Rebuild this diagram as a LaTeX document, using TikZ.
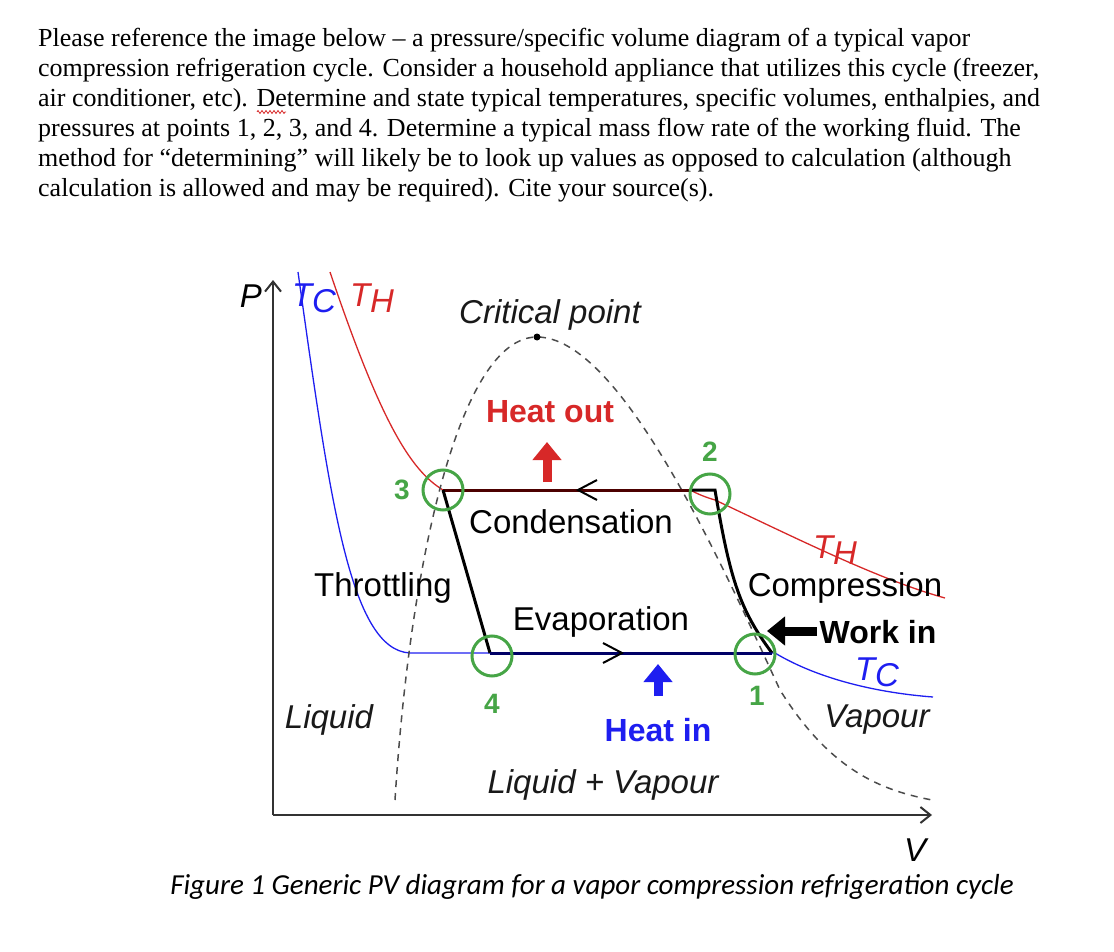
\documentclass[tikz,border=0pt]{standalone}
\usepackage{fontspec}
\setmainfont{Liberation Serif}
\newfontfamily\arial{Liberation Sans}
\newfontfamily\calib{Carlito}
\usetikzlibrary{arrows.meta,decorations.pathmorphing}
\definecolor{grn}{RGB}{70,165,70}
\definecolor{rd}{RGB}{215,40,40}
\definecolor{bl}{RGB}{30,30,240}
\begin{document}
\begin{tikzpicture}[x=1pt,y=-1pt,
  para/.style={anchor=west,inner sep=0pt,font=\fontsize{26}{26}\selectfont},
  lab/.style={inner sep=0pt,font=\arial\fontsize{33}{33}\selectfont},
  blab/.style={inner sep=0pt,font=\arial\bfseries\fontsize{32}{32}\selectfont},
  ilab/.style={inner sep=0pt,font=\arial\itshape\fontsize{33}{33}\selectfont},
  num/.style={inner sep=0pt,text=grn,font=\arial\bfseries\fontsize{28}{28}\selectfont},
  ring/.style={draw=grn,line width=3pt,circle,minimum size=40pt,inner sep=0pt},
  dome/.style={dash pattern=on 7pt off 6pt,line width=1.5pt,gray!60!black},
  cyc/.style={line width=3pt},
  fat/.style={line width=9pt,-{Triangle[width=28pt,length=18pt]}}]
\useasboundingbox (0,0) rectangle (1114,952);
% paragraph
\node[para] (l1) at (38,40) {Please reference the image below -- a pressure/specific volume diagram of a typical vapor};
\node[para] (l2) at (38,70) {compression refrigeration cycle. Consider a household appliance that utilizes this cycle (freezer,};
\node[para] (l3) at (38,100) {air conditioner, etc). Determine and state typical temperatures, specific volumes, enthalpies, and};
\node[para] (l4) at (38,130) {pressures at points 1, 2, 3, and 4. Determine a typical mass flow rate of the working fluid. The};
\node[para] (l5) at (38,160) {method for ``determining'' will likely be to look up values as opposed to calculation (although};
\node[para] (l6) at (38,190) {calculation is allowed and may be required). Cite your source(s).};
\coordinate (w1) at (257,112); \coordinate (w2) at (286,112);
\draw[rd,line width=0.8pt,decorate,decoration={zigzag,amplitude=1.5pt,segment length=4pt}] (w1) -- (w2);
% axes
\coordinate (o) at (273,815); \coordinate (py) at (273,280); \coordinate (vx) at (932,815);
\draw[line width=2pt,gray!40!black,-{Straight Barb[length=10pt,width=16pt]}] (o) -- (py);
\draw[line width=2pt,gray!40!black,-{Straight Barb[length=10pt,width=16pt]}] (o) -- (vx);
\node[ilab] (P) at (251,296) {P};
\node[ilab] (V) at (915,850) {V};
% isotherms
\draw[rd,line width=1.3pt] (330,272) .. controls (380,420) and (410,470) .. (443,490);
\draw[rd,line width=1.3pt] (690,490) .. controls (700,495) and (705,497) .. (715,500) .. controls (800,540) and (880,580) .. (945,598);
\draw[bl,line width=1.3pt] (298,272) .. controls (330,500) and (350,650) .. (410,653) -- (775,653) .. controls (820,680) and (880,693) .. (933,697);
\node[ilab,text=bl] (TC) at (314,298) {T\raisebox{-6pt}{C}};
\node[ilab,text=rd] (TH) at (372,298) {T\raisebox{-6pt}{H}};
\node[ilab,text=rd] (TH2) at (835,550) {T\raisebox{-6pt}{H}};
\node[ilab,text=bl] (TC2) at (877,672) {T\raisebox{-6pt}{C}};
% dome
\coordinate (cp) at (537,337);
\draw[dome] (395,800) .. controls (410,560) and (460,337) .. (cp) .. controls (620,337) and (720,560) .. (780,690) .. controls (830,770) and (880,790) .. (932,800);
\fill (cp) circle (3.5pt);
\node[ilab,gray!20!black] (cpl) at (550,315) {Critical point};
% cycle
\coordinate (p3) at (443,490); \coordinate (p2) at (715,490);
\coordinate (p1) at (772,653); \coordinate (p4) at (490,653);
\draw[cyc,black!70!red] (690,490) -- (p3);
\draw[cyc] (690,490) -- (p2) .. controls (730,580) and (740,610) .. (p1);
\draw[cyc] (p3) -- (p4);
\draw[cyc,black!60!blue] (p4) -- (p1);
\draw[line width=2pt] (597,480) -- (578,490) -- (597,500);
\draw[line width=2pt] (603,643) -- (622,653) -- (603,663);
\node[ring] (c3) at (443,490) {}; \node[num] (n3) at (402,490) {3};
\node[ring] (c2) at (710,494) {}; \node[num] (n2) at (710,452) {2};
\node[ring] (c1) at (755,654) {}; \node[num] (n1) at (757,696) {1};
\node[ring] (c4) at (492,656) {}; \node[num] (n4) at (492,704) {4};
% labels
\node[blab,text=rd] (ho) at (550,412) {Heat out};
\coordinate (ha1) at (547,482); \coordinate (ha2) at (547,442);
\draw[fat,rd] (ha1) -- (ha2);
\node[lab] (cond) at (571,522) {Condensation};
\node[lab] (thr) at (383,588) {Throttling};
\node[lab] (evap) at (601,622) {Evaporation};
\node[lab] (comp) at (845,588) {Compression};
\node[blab] (wi) at (878,632) {Work in};
\coordinate (wa1) at (817,631); \coordinate (wa2) at (767,631);
\draw[fat] (wa1) -- (wa2);
\node[ilab,gray!20!black] (vap) at (877,720) {Vapour};
\node[ilab,gray!20!black] (liq) at (329,720) {Liquid};
\node[blab,text=bl] (hi) at (658,730) {Heat in};
\coordinate (hb1) at (658,696); \coordinate (hb2) at (658,664);
\draw[fat,bl] (hb1) -- (hb2);
\node[ilab,gray!20!black] (lv) at (603,785) {Liquid + Vapour};
\node[inner sep=0pt,font=\calib\itshape\fontsize{29}{29}\selectfont] (cap) at (592,887) {Figure 1 Generic PV diagram for a vapor compression refrigeration cycle};
\end{tikzpicture}
\end{document}
